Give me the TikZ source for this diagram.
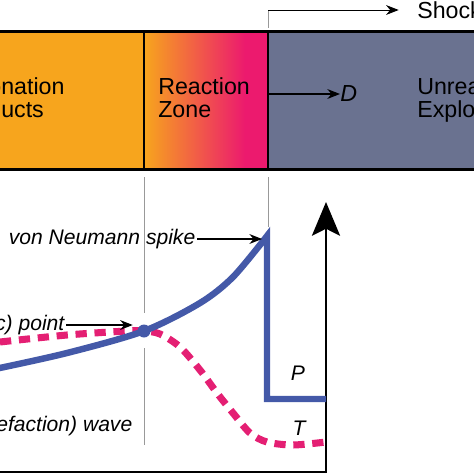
\documentclass[tikz,border=0pt]{standalone}
\usepackage{fontspec}
\setmainfont{Liberation Sans}
\definecolor{burnt}{RGB}{247,165,29}
\definecolor{hot}{RGB}{236,26,110}
\definecolor{unburnt}{RGB}{106,114,144}
\definecolor{pres}{RGB}{68,89,168}
\definecolor{temp}{RGB}{228,31,115}
\usetikzlibrary{arrows.meta}

\begin{document}
\begin{tikzpicture}[x=0.025cm,y=-0.025cm,
    zonetxt/.style={anchor=north west,inner sep=0pt,align=left,font=\fontsize{16.5}{16.4}\selectfont},
    lbl/.style={inner sep=1pt,font=\fontsize{15}{15}\selectfont\itshape},
    ptr/.style={-{Stealth[length=9pt,width=7pt]},line width=0.9pt},
    guide/.style={gray!80,line width=0.6pt},
    edge/.style={line width=2pt}]
  \clip (0,0) rectangle (474,474);
  % band of three zones, the shock front at x=268
  \fill[burnt] (-10,31) rectangle (144,169);
  \shade[left color=burnt,right color=hot] (144,31) rectangle (245,169);
  \fill[hot] (245,31) rectangle (268,169);
  \fill[unburnt] (268,31) rectangle (484,169);
  \coordinate (rz) at (144,31);
  \coordinate (sf) at (268,31);
  \draw[edge] (-10,31.5) -- (484,31.5);
  \draw[edge] (-10,169.5) -- (484,169.5);
  \draw[line width=1.8pt] (rz) -- (144,169);
  \draw[line width=1.8pt] (sf) -- (268,169);
  \node[zonetxt] (prod) at (-48,77) {Detonation\\Products};
  \node[zonetxt] (react) at (158,77) {Reaction\\Zone};
  \node[zonetxt] (unre) at (417,77) {Unreacted\\Explosive};
  \node[anchor=west,inner sep=0pt,font=\fontsize{16.5}{16.5}\selectfont\itshape] (D) at (340,94) {D};
  \draw[ptr] (D.west -| sf) -- (D.west);
  % shock label above the band
  \node[anchor=west,inner sep=0pt,font=\fontsize{16.5}{16.5}\selectfont] (shock) at (417,10) {Shock};
  \draw[guide] (268,11) -- (268,28);
  \draw[ptr,line width=0.7pt,shorten >=13pt] (shock.west -| sf) -- (shock.west);
  % guide lines down into the profile
  \draw[guide] (144,177) -- (144,313);
  \draw[guide] (144,348) -- (144,445);
  \draw[guide] (268,177) -- (268,227);
  % axes
  \draw[edge] (-5,472) -- (327,472);
  \draw[line width=1.8pt,-{Stealth[length=24pt,width=20pt,inset=5pt]}] (326,473) -- (326,202);
  % profiles
  \coordinate (cj) at (144,331);
  \coordinate (vn) at (267,238);
  \draw[temp,line width=5pt,dash pattern=on 8pt off 5.5pt] plot[smooth] coordinates
    {(0,342) (67,335) (127,331) (144,331) (160,334) (180,347) (200,370) (217,393)
     (233,413) (250,433) (267,442) (293,445) (326,442)};
  \draw[pres,line width=4.6pt,miter limit=4] plot[smooth] coordinates
    {(-5,369) (67,353) (144,331) (200,303) (233,277) (267,236)} -- (267,399) -- (326,399);
  \fill[pres] (cj) circle (6.5);
  \node[lbl,anchor=east] (vnlab) at (197,239) {von Neumann spike};
  \node[lbl,anchor=east] (cjlab) at (66,325) {CJ (sonic) point};
  \node[lbl,anchor=east] (tw) at (134,426) {Taylor (rarefaction) wave};
  \draw[ptr] (vnlab.east) -- (vnlab.east -| vn) [shorten >=3.5pt];
  \draw[ptr,shorten >=8pt] (cjlab.east) -- (cjlab.east -| cj);
  \node[lbl,inner sep=0pt] (P) at (298,373) {P};
  \node[lbl,inner sep=0pt] (T) at (299,428) {T};
\end{tikzpicture}
\end{document}
